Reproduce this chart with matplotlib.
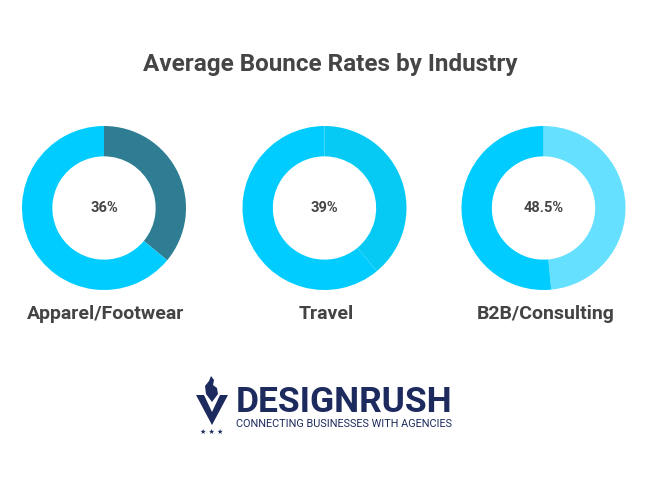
import matplotlib.pyplot as plt
from matplotlib.patches import Polygon

plt.rcParams['font.family'] = ['Roboto', 'DejaVu Sans']

# data
industries = ['Apparel/Footwear', 'Travel', 'B2B/Consulting']
bounce = [36, 39, 48.5]
seg_colors = ['#2e7d92', '#07caf4', '#66e0ff']
base_color = '#00ccff'

W, H = 650, 480
fig = plt.figure(figsize=(6.5, 4.8), dpi=100)
ax = fig.add_axes([0, 0, 1, 1])
ax.set_xlim(0, W)
ax.set_ylim(0, H)
ax.set_aspect('equal')
ax.axis('off')

centers_x = [104, 324.5, 543.5]
cy = H - 208
radius = 82

for cx, name, val, col in zip(centers_x, industries, bounce, seg_colors):
    ax.pie([val, 100 - val], colors=[col, base_color], startangle=90,
           counterclock=False, center=(cx, cy), radius=radius,
           wedgeprops=dict(width=radius * 0.37, linewidth=0))
    ax.text(cx, cy, f'{val:g}%', ha='center', va='center', fontsize=10.5,
            fontweight='bold', color='#444444')
    ax.text(cx + 2, H - 314, name, ha='center', va='center', fontsize=14,
            fontweight='bold', color='#444444')

ax.set_xlim(0, W)
ax.set_ylim(0, H)

ax.text(330, H - 64, 'Average Bounce Rates by Industry', ha='center',
        va='center', fontsize=17.5, fontweight='bold', color='#454545')

# logo
navy = '#1c2a5e'
ax.text(236, H - 402, 'DESIGNRUSH', ha='left', va='center', fontsize=25.5,
        fontweight='bold', color=navy)
ax.text(236, H - 424, 'CONNECTING BUSINESSES WITH AGENCIES', ha='left',
        va='center', fontsize=7.85, color=navy)
v_shape = [(196, 395), (204, 395), (212, 412), (220, 395), (228, 395),
           (212, 425)]
ax.add_patch(Polygon([(x, H - y) for x, y in v_shape], closed=True,
                     color=navy, lw=0))
flame = [(206, 394), (205, 386), (209, 381), (211, 376), (214, 380),
         (213, 385), (217, 388), (218, 394), (212, 402)]
ax.add_patch(Polygon([(x, H - y) for x, y in flame], closed=True,
                     color=navy, lw=0))
ax.text(212, H - 432, '★ ★ ★', ha='center', va='center', fontsize=5,
        color=navy, family=['DejaVu Sans'])

fig.savefig('out.png', dpi=100)
